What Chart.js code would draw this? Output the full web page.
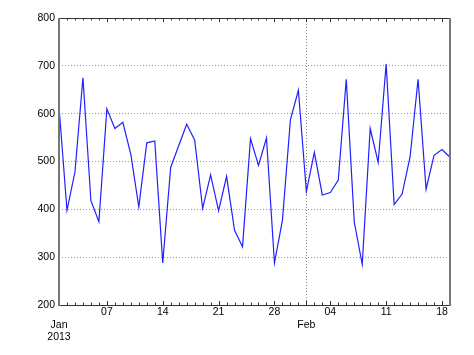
<!DOCTYPE html>
<html>
<head>
<meta charset="utf-8">
<script src="https://cdn.jsdelivr.net/npm/chart.js@4/dist/chart.umd.min.js"></script>
<style>
  html, body { margin: 0; padding: 0; background: #fff; }
  #wrap { width: 474px; height: 355px; }
</style>
</head>
<body>
<div id="wrap"><canvas id="chart" width="474" height="355"></canvas></div>
<script>
// ── Data ──────────────────────────────────────────────────────────
// one value per day, 2013-01-01 .. 2013-02-19 (x = day index)
const values = [
  615, 398, 478, 675, 418, 374, 610, 569, 582, 515,
  405, 539, 543, 288, 488, 533, 578, 545, 402, 472,
  397, 469, 356, 322, 548, 492, 549, 288, 377, 587,
  649, 437, 519, 430, 435, 461, 672, 374, 285, 569,
  498, 704, 410, 432, 510, 672, 442, 513, 525, 509
];
const tickDays = [0, 6, 13, 20, 27, 31, 34, 41, 48];
const tickText = [['', 'Jan', '2013'], '07', '14', '21', '28', ['', 'Feb'], '04', '11', '18'];
const monthStarts = [0, 31];
const yTicks = [200, 300, 400, 500, 600, 700, 800];

const points = values.map((v, i) => ({ x: i, y: v }));

// ── Frame + inward daily tick marks ───────────────────────────────
const framePlugin = {
  id: 'frame',
  afterDatasetsDraw(chart) {
    const { ctx, chartArea: a, scales } = chart;
    ctx.save();
    ctx.strokeStyle = '#333';
    ctx.lineWidth = 1;
    ctx.beginPath();
    scales.x.ticks.forEach(t => {
      const px = Math.round(scales.x.getPixelForValue(t.value)) + 0.5;
      const len = monthStarts.includes(t.value) || tickDays.includes(t.value) ? 4 : 2.5;
      ctx.moveTo(px, a.bottom); ctx.lineTo(px, a.bottom - len);
      ctx.moveTo(px, a.top); ctx.lineTo(px, a.top + len);
    });
    ctx.stroke();
    // top / bottom spines
    ctx.beginPath();
    ctx.moveTo(a.left, a.top + 0.5); ctx.lineTo(a.right, a.top + 0.5);
    ctx.moveTo(a.left, a.bottom + 0.5); ctx.lineTo(a.right, a.bottom + 0.5);
    ctx.stroke();
    // left / right spines (thicker, grey)
    ctx.strokeStyle = '#777';
    ctx.lineWidth = 2;
    ctx.beginPath();
    ctx.moveTo(a.left, a.top); ctx.lineTo(a.left, a.bottom + 1);
    ctx.moveTo(a.right, a.top); ctx.lineTo(a.right, a.bottom + 1);
    ctx.stroke();
    ctx.restore();
  }
};

new Chart(document.getElementById('chart'), {
  type: 'line',
  data: {
    datasets: [{
      data: points,
      borderColor: '#2020ff',
      borderWidth: 1.2,
      pointRadius: 0,
      tension: 0,
      fill: false
    }]
  },
  options: {
    responsive: false,
    animation: false,
    layout: { padding: { top: 18, right: 24, left: 0, bottom: 0 } },
    plugins: { legend: { display: false }, tooltip: { enabled: false } },
    scales: {
      x: {
        type: 'linear',
        min: 0,
        max: values.length - 1,
        afterBuildTicks: s => { s.ticks = values.map((v, i) => ({ value: i })); },
        afterFit: s => { s.height = 50; },
        border: { display: false, dash: [1, 2] },
        grid: {
          drawTicks: false,
          color: c => (c.tick && c.tick.value === 31) ? '#888' : 'rgba(0,0,0,0)',
          lineWidth: 1
        },
        ticks: {
          autoSkip: false,
          maxRotation: 0,
          padding: 1,
          color: '#000',
          font: { family: 'Liberation Sans, Arial, sans-serif', size: 10.5, lineHeight: 1.2 },
          callback: v => {
            const k = tickDays.indexOf(v);
            return k >= 0 ? tickText[k] : '';
          }
        }
      },
      y: {
        min: 200,
        max: 800,
        afterBuildTicks: s => { s.ticks = yTicks.map(v => ({ value: v })); },
        afterFit: s => { s.width = 59; },
        border: { display: false, dash: [1, 2] },
        grid: { drawTicks: false, color: '#999', lineWidth: 1 },
        ticks: {
          padding: 4,
          color: '#000',
          font: { family: 'Liberation Sans, Arial, sans-serif', size: 10.5 }
        }
      }
    }
  },
  plugins: [framePlugin]
});
</script>
</body>
</html>
